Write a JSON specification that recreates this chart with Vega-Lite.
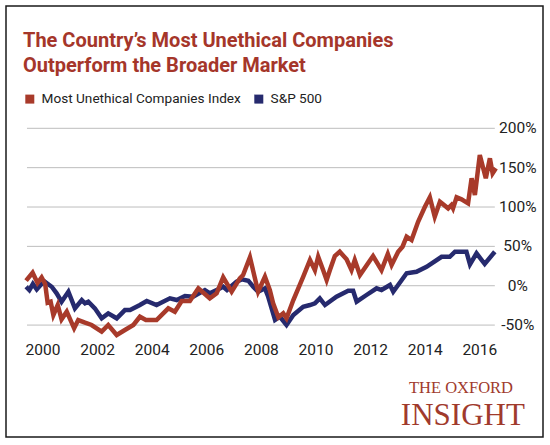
{
  "$schema": "https://vega.github.io/schema/vega-lite/v6.json",
  "width": 537,
  "height": 431,
  "autosize": {"type": "none"},
  "padding": {"left": 6, "top": 6, "right": 7, "bottom": 8},
  "background": "white",
  "config": {
    "view": {"stroke": "#1a1a1a", "strokeWidth": 1.5},
    "font": "Roboto, Liberation Sans, sans-serif"
  },
  "title": {
    "text": ["The Country’s Most Unethical Companies", "Outperform the Broader Market"],
    "anchor": "start",
    "frame": "group",
    "orient": "top",
    "offset": -70,
    "dx": 17,
    "font": "Roboto, Liberation Sans, sans-serif",
    "fontSize": 20,
    "fontWeight": "bold",
    "color": "#a5362a",
    "lineHeight": 25
  },
  "datasets": {
    "grid": [
      {"pct": -50, "label": "-50%"}, {"pct": 0, "label": "0%"}, {"pct": 50, "label": "50%"},
      {"pct": 100, "label": "100%"}, {"pct": 150, "label": "150%"}, {"pct": 200, "label": "200%"}
    ],
    "years": [
      {"year": 2000, "label": "2000"}, {"year": 2002, "label": "2002"}, {"year": 2004, "label": "2004"},
      {"year": 2006, "label": "2006"}, {"year": 2008, "label": "2008"}, {"year": 2010, "label": "2010"},
      {"year": 2012, "label": "2012"}, {"year": 2014, "label": "2014"}, {"year": 2016, "label": "2016"}
    ],
    "series": [
      {"series": "S&P 500", "year": 1999.38, "pct": -1.3},
      {"series": "S&P 500", "year": 1999.50, "pct": -5.5},
      {"series": "S&P 500", "year": 1999.63, "pct": 2.2},
      {"series": "S&P 500", "year": 1999.77, "pct": -4.6},
      {"series": "S&P 500", "year": 1999.92, "pct": 1.3},
      {"series": "S&P 500", "year": 2000.07, "pct": 5.1},
      {"series": "S&P 500", "year": 2000.32, "pct": -1.3},
      {"series": "S&P 500", "year": 2000.50, "pct": -9.7},
      {"series": "S&P 500", "year": 2000.68, "pct": -20.3},
      {"series": "S&P 500", "year": 2000.93, "pct": -7.6},
      {"series": "S&P 500", "year": 2001.17, "pct": -28.7},
      {"series": "S&P 500", "year": 2001.42, "pct": -18.2},
      {"series": "S&P 500", "year": 2001.54, "pct": -22.4},
      {"series": "S&P 500", "year": 2001.66, "pct": -20.3},
      {"series": "S&P 500", "year": 2001.90, "pct": -28.7},
      {"series": "S&P 500", "year": 2002.15, "pct": -41.4},
      {"series": "S&P 500", "year": 2002.39, "pct": -35.1},
      {"series": "S&P 500", "year": 2002.70, "pct": -41.4},
      {"series": "S&P 500", "year": 2003.00, "pct": -30.9},
      {"series": "S&P 500", "year": 2003.19, "pct": -30.9},
      {"series": "S&P 500", "year": 2003.55, "pct": -24.5},
      {"series": "S&P 500", "year": 2003.80, "pct": -19.4},
      {"series": "S&P 500", "year": 2004.16, "pct": -24.5},
      {"series": "S&P 500", "year": 2004.65, "pct": -16.0},
      {"series": "S&P 500", "year": 2004.90, "pct": -18.2},
      {"series": "S&P 500", "year": 2005.20, "pct": -13.1},
      {"series": "S&P 500", "year": 2005.50, "pct": -14.0},
      {"series": "S&P 500", "year": 2005.93, "pct": -5.5},
      {"series": "S&P 500", "year": 2006.11, "pct": -9.7},
      {"series": "S&P 500", "year": 2006.42, "pct": -4.6},
      {"series": "S&P 500", "year": 2006.60, "pct": -1.3},
      {"series": "S&P 500", "year": 2006.74, "pct": -5.5},
      {"series": "S&P 500", "year": 2007.09, "pct": 5.1},
      {"series": "S&P 500", "year": 2007.28, "pct": 8.1},
      {"series": "S&P 500", "year": 2007.52, "pct": 6.4},
      {"series": "S&P 500", "year": 2007.70, "pct": -1.3},
      {"series": "S&P 500", "year": 2007.88, "pct": -7.6},
      {"series": "S&P 500", "year": 2008.13, "pct": -3.3},
      {"series": "S&P 500", "year": 2008.25, "pct": -14.0},
      {"series": "S&P 500", "year": 2008.50, "pct": -43.6},
      {"series": "S&P 500", "year": 2008.68, "pct": -39.4},
      {"series": "S&P 500", "year": 2008.92, "pct": -49.9},
      {"series": "S&P 500", "year": 2009.17, "pct": -37.2},
      {"series": "S&P 500", "year": 2009.53, "pct": -26.7},
      {"series": "S&P 500", "year": 2009.78, "pct": -24.5},
      {"series": "S&P 500", "year": 2009.96, "pct": -22.4},
      {"series": "S&P 500", "year": 2010.14, "pct": -16.0},
      {"series": "S&P 500", "year": 2010.33, "pct": -24.5},
      {"series": "S&P 500", "year": 2010.75, "pct": -14.0},
      {"series": "S&P 500", "year": 2011.18, "pct": -6.4},
      {"series": "S&P 500", "year": 2011.36, "pct": -6.4},
      {"series": "S&P 500", "year": 2011.49, "pct": -20.3},
      {"series": "S&P 500", "year": 2011.85, "pct": -11.8},
      {"series": "S&P 500", "year": 2012.22, "pct": -3.3},
      {"series": "S&P 500", "year": 2012.40, "pct": -5.5},
      {"series": "S&P 500", "year": 2012.71, "pct": 0.9},
      {"series": "S&P 500", "year": 2012.83, "pct": -7.6},
      {"series": "S&P 500", "year": 2013.32, "pct": 15.8},
      {"series": "S&P 500", "year": 2013.68, "pct": 17.8},
      {"series": "S&P 500", "year": 2014.05, "pct": 24.1},
      {"series": "S&P 500", "year": 2014.60, "pct": 36.8},
      {"series": "S&P 500", "year": 2014.90, "pct": 36.8},
      {"series": "S&P 500", "year": 2015.09, "pct": 43.2},
      {"series": "S&P 500", "year": 2015.51, "pct": 43.2},
      {"series": "S&P 500", "year": 2015.64, "pct": 27.2},
      {"series": "S&P 500", "year": 2015.88, "pct": 41.2},
      {"series": "S&P 500", "year": 2016.18, "pct": 27.6},
      {"series": "S&P 500", "year": 2016.55, "pct": 43.2},
      {"series": "Most Unethical Companies Index", "year": 1999.38, "pct": 6.4},
      {"series": "Most Unethical Companies Index", "year": 1999.62, "pct": 16.5},
      {"series": "Most Unethical Companies Index", "year": 1999.80, "pct": 3.5},
      {"series": "Most Unethical Companies Index", "year": 1999.95, "pct": 10.5},
      {"series": "Most Unethical Companies Index", "year": 2000.08, "pct": 2.2},
      {"series": "Most Unethical Companies Index", "year": 2000.17, "pct": -21.6},
      {"series": "Most Unethical Companies Index", "year": 2000.28, "pct": -20.3},
      {"series": "Most Unethical Companies Index", "year": 2000.38, "pct": -37.2},
      {"series": "Most Unethical Companies Index", "year": 2000.54, "pct": -24.5},
      {"series": "Most Unethical Companies Index", "year": 2000.68, "pct": -42.7},
      {"series": "Most Unethical Companies Index", "year": 2000.87, "pct": -33.0},
      {"series": "Most Unethical Companies Index", "year": 2001.14, "pct": -54.1},
      {"series": "Most Unethical Companies Index", "year": 2001.29, "pct": -43.6},
      {"series": "Most Unethical Companies Index", "year": 2001.54, "pct": -47.0},
      {"series": "Most Unethical Companies Index", "year": 2001.78, "pct": -49.9},
      {"series": "Most Unethical Companies Index", "year": 2002.15, "pct": -58.4},
      {"series": "Most Unethical Companies Index", "year": 2002.39, "pct": -49.9},
      {"series": "Most Unethical Companies Index", "year": 2002.70, "pct": -62.6},
      {"series": "Most Unethical Companies Index", "year": 2003.00, "pct": -56.3},
      {"series": "Most Unethical Companies Index", "year": 2003.31, "pct": -49.9},
      {"series": "Most Unethical Companies Index", "year": 2003.55, "pct": -39.4},
      {"series": "Most Unethical Companies Index", "year": 2003.77, "pct": -43.6},
      {"series": "Most Unethical Companies Index", "year": 2004.16, "pct": -43.6},
      {"series": "Most Unethical Companies Index", "year": 2004.59, "pct": -28.7},
      {"series": "Most Unethical Companies Index", "year": 2004.83, "pct": -33.0},
      {"series": "Most Unethical Companies Index", "year": 2005.08, "pct": -19.4},
      {"series": "Most Unethical Companies Index", "year": 2005.38, "pct": -19.4},
      {"series": "Most Unethical Companies Index", "year": 2005.69, "pct": -3.3},
      {"series": "Most Unethical Companies Index", "year": 2006.11, "pct": -16.0},
      {"series": "Most Unethical Companies Index", "year": 2006.36, "pct": -9.7},
      {"series": "Most Unethical Companies Index", "year": 2006.60, "pct": 10.7},
      {"series": "Most Unethical Companies Index", "year": 2006.91, "pct": -7.6},
      {"series": "Most Unethical Companies Index", "year": 2007.21, "pct": 9.4},
      {"series": "Most Unethical Companies Index", "year": 2007.33, "pct": 13.6},
      {"series": "Most Unethical Companies Index", "year": 2007.58, "pct": 36.1},
      {"series": "Most Unethical Companies Index", "year": 2007.88, "pct": -7.6},
      {"series": "Most Unethical Companies Index", "year": 2008.13, "pct": 11.4},
      {"series": "Most Unethical Companies Index", "year": 2008.31, "pct": -5.5},
      {"series": "Most Unethical Companies Index", "year": 2008.43, "pct": -22.4},
      {"series": "Most Unethical Companies Index", "year": 2008.62, "pct": -40.2},
      {"series": "Most Unethical Companies Index", "year": 2008.80, "pct": -35.1},
      {"series": "Most Unethical Companies Index", "year": 2008.92, "pct": -41.4},
      {"series": "Most Unethical Companies Index", "year": 2009.17, "pct": -18.2},
      {"series": "Most Unethical Companies Index", "year": 2009.53, "pct": 11.4},
      {"series": "Most Unethical Companies Index", "year": 2009.78, "pct": 32.7},
      {"series": "Most Unethical Companies Index", "year": 2009.96, "pct": 19.9},
      {"series": "Most Unethical Companies Index", "year": 2010.08, "pct": 36.8},
      {"series": "Most Unethical Companies Index", "year": 2010.26, "pct": 19.9},
      {"series": "Most Unethical Companies Index", "year": 2010.39, "pct": 7.2},
      {"series": "Most Unethical Companies Index", "year": 2010.51, "pct": 19.9},
      {"series": "Most Unethical Companies Index", "year": 2010.69, "pct": 37.7},
      {"series": "Most Unethical Companies Index", "year": 2010.87, "pct": 43.2},
      {"series": "Most Unethical Companies Index", "year": 2011.12, "pct": 33.5},
      {"series": "Most Unethical Companies Index", "year": 2011.30, "pct": 19.9},
      {"series": "Most Unethical Companies Index", "year": 2011.42, "pct": 32.7},
      {"series": "Most Unethical Companies Index", "year": 2011.61, "pct": 13.6},
      {"series": "Most Unethical Companies Index", "year": 2012.09, "pct": 37.7},
      {"series": "Most Unethical Companies Index", "year": 2012.40, "pct": 19.9},
      {"series": "Most Unethical Companies Index", "year": 2012.63, "pct": 40.3},
      {"series": "Most Unethical Companies Index", "year": 2012.77, "pct": 26.3},
      {"series": "Most Unethical Companies Index", "year": 2013.01, "pct": 43.2},
      {"series": "Most Unethical Companies Index", "year": 2013.17, "pct": 49.6},
      {"series": "Most Unethical Companies Index", "year": 2013.32, "pct": 62.3},
      {"series": "Most Unethical Companies Index", "year": 2013.50, "pct": 58.1},
      {"series": "Most Unethical Companies Index", "year": 2013.74, "pct": 81.3},
      {"series": "Most Unethical Companies Index", "year": 2013.99, "pct": 100.4},
      {"series": "Most Unethical Companies Index", "year": 2014.17, "pct": 112.3},
      {"series": "Most Unethical Companies Index", "year": 2014.35, "pct": 87.7},
      {"series": "Most Unethical Companies Index", "year": 2014.54, "pct": 106.7},
      {"series": "Most Unethical Companies Index", "year": 2014.84, "pct": 98.3},
      {"series": "Most Unethical Companies Index", "year": 2014.96, "pct": 102.5},
      {"series": "Most Unethical Companies Index", "year": 2015.02, "pct": 98.3},
      {"series": "Most Unethical Companies Index", "year": 2015.15, "pct": 112.3},
      {"series": "Most Unethical Companies Index", "year": 2015.33, "pct": 109.8},
      {"series": "Most Unethical Companies Index", "year": 2015.57, "pct": 104.7},
      {"series": "Most Unethical Companies Index", "year": 2015.70, "pct": 136.5},
      {"series": "Most Unethical Companies Index", "year": 2015.82, "pct": 115.2},
      {"series": "Most Unethical Companies Index", "year": 2016.00, "pct": 166.1},
      {"series": "Most Unethical Companies Index", "year": 2016.22, "pct": 136.5},
      {"series": "Most Unethical Companies Index", "year": 2016.37, "pct": 161.9},
      {"series": "Most Unethical Companies Index", "year": 2016.47, "pct": 142.8},
      {"series": "Most Unethical Companies Index", "year": 2016.59, "pct": 149.2}
    ]
  },
  "layer": [
    {
      "data": {"name": "grid"},
      "mark": {"type": "rule", "color": "#bdbdbd", "strokeWidth": 1},
      "encoding": {
        "y": {"field": "pct", "type": "quantitative", "scale": {"domain": [-192.2, 355.4], "nice": false, "zero": false}, "axis": null},
        "x": {"datum": 1999.414, "type": "quantitative", "scale": {"domain": [1998.645, 2018.315], "nice": false, "zero": false}, "axis": null},
        "x2": {"datum": 2016.55}
      }
    },
    {
      "data": {"name": "grid"},
      "mark": {"type": "text", "align": "center", "baseline": "middle", "font": "Roboto, Liberation Sans, sans-serif", "fontSize": 15.5, "color": "#222"},
      "encoding": {
        "y": {"field": "pct", "type": "quantitative", "scale": {"domain": [-192.2, 355.4], "nice": false, "zero": false}, "axis": null},
        "x": {"datum": 2017.39, "type": "quantitative", "scale": {"domain": [1998.645, 2018.315], "nice": false, "zero": false}, "axis": null},
        "text": {"field": "label", "type": "nominal"}
      }
    },
    {
      "data": {"name": "years"},
      "mark": {"type": "text", "align": "center", "baseline": "alphabetic", "font": "Roboto, Liberation Sans, sans-serif", "fontSize": 15.5, "color": "#222"},
      "encoding": {
        "x": {"field": "year", "type": "quantitative", "scale": {"domain": [1998.645, 2018.315], "nice": false, "zero": false}, "axis": null},
        "y": {"datum": -88.1, "type": "quantitative", "scale": {"domain": [-192.2, 355.4], "nice": false, "zero": false}, "axis": null},
        "text": {"field": "label", "type": "nominal"}
      }
    },
    {
      "data": {"name": "series"},
      "transform": [{"filter": "datum.series === 'S&P 500'"}],
      "mark": {"type": "line", "strokeWidth": 4.5, "strokeJoin": "miter", "strokeCap": "butt"},
      "encoding": {
        "x": {"field": "year", "type": "quantitative", "scale": {"domain": [1998.645, 2018.315], "nice": false, "zero": false}, "axis": null},
        "y": {"field": "pct", "type": "quantitative", "scale": {"domain": [-192.2, 355.4], "nice": false, "zero": false}, "axis": null},
        "color": {
          "field": "series", "type": "nominal",
          "scale": {"domain": ["Most Unethical Companies Index", "S&P 500"], "range": ["#a83a2a", "#262a6e"]},
          "legend": {
            "orient": "none", "legendX": 17, "legendY": 86, "direction": "horizontal", "title": null,
            "symbolType": "square", "symbolSize": 81, "symbolStrokeWidth": 0, "labelOffset": 5, "columnPadding": 11,
            "labelFont": "Roboto, Liberation Sans, sans-serif", "labelFontSize": 13.6, "labelColor": "#222", "labelLimit": 0,
            "padding": 0,
            "encode": {"symbols": {"update": {"fill": {"scale": "color", "field": "value"}, "strokeWidth": {"value": 0}}}}
          }
        }
      }
    },
    {
      "data": {"name": "series"},
      "transform": [{"filter": "datum.series !== 'S&P 500'"}],
      "mark": {"type": "line", "strokeWidth": 4.5, "strokeJoin": "miter", "strokeCap": "butt"},
      "encoding": {
        "x": {"field": "year", "type": "quantitative", "scale": {"domain": [1998.645, 2018.315], "nice": false, "zero": false}, "axis": null},
        "y": {"field": "pct", "type": "quantitative", "scale": {"domain": [-192.2, 355.4], "nice": false, "zero": false}, "axis": null},
        "color": {
          "field": "series", "type": "nominal",
          "scale": {"domain": ["Most Unethical Companies Index", "S&P 500"], "range": ["#a83a2a", "#262a6e"]}
        }
      }
    },
    {
      "data": {"values": [{}]},
      "mark": {"type": "text", "text": "THE OXFORD", "font": "Liberation Serif, DejaVu Serif, serif", "fontSize": 16.5, "color": "#a03a2c", "align": "center", "baseline": "alphabetic"},
      "encoding": {
        "x": {"datum": 2015.31, "type": "quantitative", "scale": {"domain": [1998.645, 2018.315], "nice": false, "zero": false}, "axis": null},
        "y": {"datum": -136.3, "type": "quantitative", "scale": {"domain": [-192.2, 355.4], "nice": false, "zero": false}, "axis": null}
      }
    },
    {
      "data": {"values": [{}]},
      "mark": {"type": "text", "text": "INSIGHT", "font": "Liberation Serif, DejaVu Serif, serif", "fontSize": 31, "color": "#a03a2c", "align": "center", "baseline": "alphabetic"},
      "encoding": {
        "x": {"datum": 2015.38, "type": "quantitative", "scale": {"domain": [1998.645, 2018.315], "nice": false, "zero": false}, "axis": null},
        "y": {"datum": -177.0, "type": "quantitative", "scale": {"domain": [-192.2, 355.4], "nice": false, "zero": false}, "axis": null}
      }
    }
  ]
}
